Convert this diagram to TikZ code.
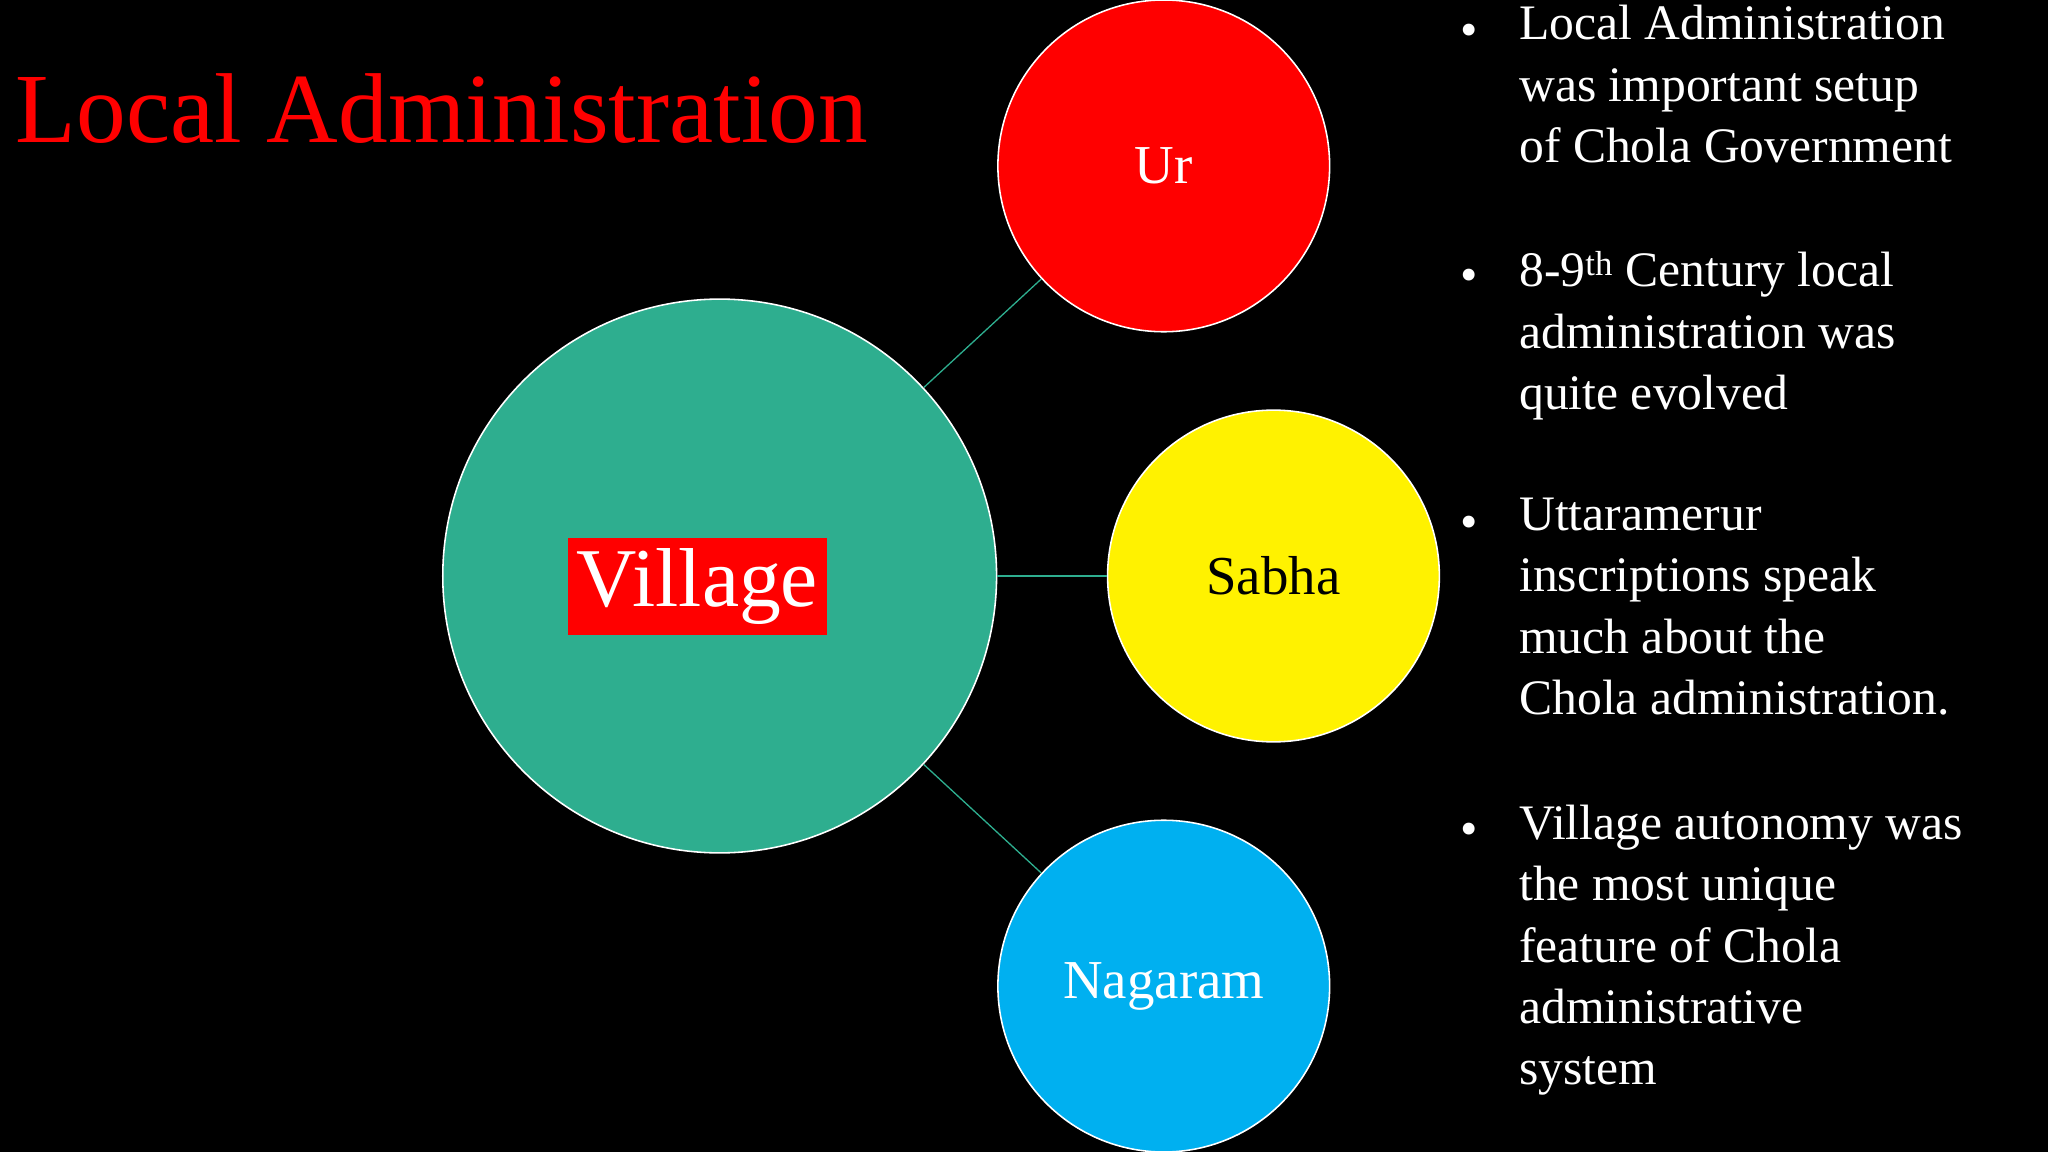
\documentclass[tikz,border=0pt]{standalone}
\usepackage{fontspec}
\setmainfont{Liberation Serif}
\begin{document}
\begin{tikzpicture}[x=1pt,y=-1pt,
  circ/.style={circle,draw=white,line width=1.2pt,inner sep=0pt},
  conn/.style={draw=green!50!teal,line width=1pt},
  btxt/.style={anchor=north west,align=left,inner sep=0pt,font=\fontsize{38}{47}\selectfont,text=white},
  bul/.style={anchor=center,inner sep=0pt,font=\fontsize{38}{47}\selectfont,text=white}]
\fill[black] (0,0) rectangle (1568,882);
\useasboundingbox (0,0) rectangle (1568,882);
\node[anchor=west,text=red,font=\fontsize{76}{80}\selectfont,inner sep=0pt] (title) at (12,83) {Local Administration};
\node[circ,fill=teal!60!green!80!black,minimum size=424pt,fill={rgb,255:red,46;green,174;blue,143}] (v) at (551,441) {};
\node[fill=red,text=white,inner sep=0pt,minimum width=198pt,minimum height=74pt,font=\fontsize{64}{70}\selectfont] (vl) at (534,449) {Village};
\node[circ,fill=red,minimum size=254pt,text=white,font=\fontsize{42}{48}\selectfont] (ur) at (891,127) {Ur};
\node[circ,fill=yellow,minimum size=254pt,text=black,font=\fontsize{42}{48}\selectfont] (sa) at (975,441) {Sabha};
\node[circ,fill={rgb,255:red,0;green,176;blue,240},minimum size=254pt,text=white,font=\fontsize{42}{48}\selectfont] (na) at (891,755) {Nagaram};
\draw[conn,draw={rgb,255:red,46;green,174;blue,143}] (v) -- (ur);
\draw[conn,draw={rgb,255:red,46;green,174;blue,143}] (v) -- (sa);
\draw[conn,draw={rgb,255:red,46;green,174;blue,143}] (v) -- (na);
\node[bul] (b1) at (1125,27) {•};
\node[btxt] (t1) at (1163,4) {Local Administration\\was important setup\\of Chola Government};
\node[bul] (b2) at (1125,215) {•};
\node[btxt] (t2) at (1163,192) {8-9\textsuperscript{th} Century local\\administration was\\quite evolved};
\node[bul] (b3) at (1125,404) {•};
\node[btxt] (t3) at (1163,381) {Uttaramerur\\inscriptions speak\\much about the\\Chola administration.};
\node[bul] (b4) at (1125,639) {•};
\node[btxt] (t4) at (1163,616) {Village autonomy was\\the most unique\\feature of Chola\\administrative\\system};
\end{tikzpicture}
\end{document}
